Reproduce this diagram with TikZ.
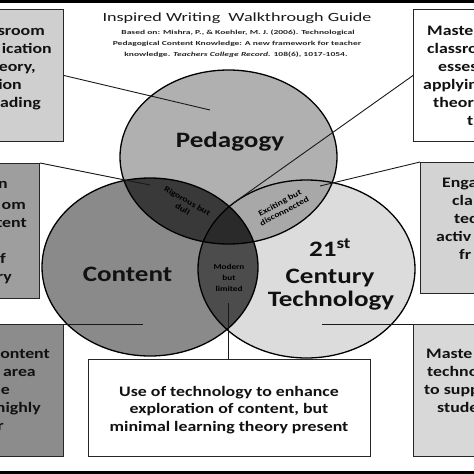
\documentclass[tikz,border=0pt]{standalone}
\usepackage{fontspec}
\setmainfont{Carlito}[FakeStretch=1.23]
\newfontfamily\titlefont{Carlito}[FakeStretch=1.45]
\newfontfamily\citefont{Carlito}[FakeStretch=1.55]
\definecolor{pedC}{HTML}{B0B0B0}
\definecolor{conC}{HTML}{8A8A8A}
\definecolor{tecC}{HTML}{DCDCDC}
\definecolor{pcC}{HTML}{393939}
\definecolor{ptC}{HTML}{A8A8A8}
\definecolor{ctC}{HTML}{4C4C4C}
\definecolor{pctC}{HTML}{2A2A2A}
\definecolor{tlC}{HTML}{CFCFCF}
\definecolor{mlC}{HTML}{9E9E9E}
\definecolor{blC}{HTML}{8C8C8C}
\definecolor{mrC}{HTML}{D3D3D3}
\definecolor{brC}{HTML}{D8D8D8}
\definecolor{inkC}{HTML}{111111}
\begin{document}
\begin{tikzpicture}[x=1pt,y=-1pt,
  box/.style={draw=black!85, line width=1pt, inner sep=0pt, anchor=north west},
  sidetxt/.style={font=\bfseries\fontsize{14.5}{17.5}\selectfont, text=inkC, inner sep=0pt},
  citetxt/.style={font=\citefont\bfseries\fontsize{6.15}{7}\selectfont, text=black!85, inner sep=0pt, anchor=base},
  conn/.style={draw=black!90, line width=0.9pt},
  venn/.style={draw=black, line width=1.3pt},
  big/.style={font=\bfseries\fontsize{22}{26}\selectfont, text=inkC, inner sep=0pt, anchor=base},
  small/.style={font=\bfseries\fontsize{8}{9.5}\selectfont, text=black, inner sep=0pt, align=center}]
\clip (0,0) rectangle (474,474);
\fill[white] (0,0) rectangle (474,474);
\fill[black] (0,0) rectangle (474,2.5);
\fill[black] (0,470.5) rectangle (474,474);

% title
\node[font=\titlefont\fontsize{12.5}{14}\selectfont, text=black!90, inner sep=0pt, anchor=base] (title) at (237,21) {Inspired Writing\ \ Walkthrough Guide};
\node[citetxt] (cite1) at (238,34) {Based on: Mishra, P., \& Koehler, M. J. (2006). Technological};
\node[citetxt] (cite2) at (237,45) {Pedagogical Content Knowledge: A new framework for teacher};
\node[citetxt] (cite3) at (236,56) {knowledge. \textit{Teachers College Record.} 108(6), 1017-1054.};

% venn fills
\fill[conC] (150,267) ellipse [x radius=108, y radius=89];
\fill[tecC] (306.5,269) ellipse [x radius=108.5, y radius=89];
\fill[pedC] (228.5,157) ellipse [x radius=108.5, y radius=87];
\begin{scope}
  \clip (228.5,157) ellipse [x radius=108.5, y radius=87];
  \fill[pcC] (150,267) ellipse [x radius=108, y radius=89];
  \fill[ptC] (306.5,269) ellipse [x radius=108.5, y radius=89];
\end{scope}
\begin{scope}
  \clip (150,267) ellipse [x radius=108, y radius=89];
  \clip (306.5,269) ellipse [x radius=108.5, y radius=89];
  \fill[ctC] (0,0) rectangle (474,474);
  \clip (228.5,157) ellipse [x radius=108.5, y radius=87];
  \fill[pctC] (0,0) rectangle (474,474);
\end{scope}
\draw[venn] (228.5,157) ellipse [x radius=108.5, y radius=87];
\draw[venn] (150,267) ellipse [x radius=108, y radius=89];
\draw[venn] (306.5,269) ellipse [x radius=108.5, y radius=89];

% venn labels
\node[big] (ped) at (230,147) {Pedagogy};
\node[big] (con) at (127.5,281) {Content};
\node[big] (t21) at (330,256) {21\textsuperscript{st}};
\node[big] (cen) at (330,283) {Century};
\node[big] (tec) at (331,306) {Technology};
\node[small, rotate=28] (exc) at (282,207) {Exciting but\\disconnected};
\node[small, rotate=-30, text=black] (rig) at (185,205) {Rigorous but\\dull};
\node[small, text=black, font=\bfseries\fontsize{7.5}{11}\selectfont] (mod) at (229,278) {Modern\\but\\limited};

% boxes
\node[box, fill=tlC, minimum width=103pt, minimum height=132pt] (tl) at (-40,9) {};
\node[box, fill=white, minimum width=100pt, minimum height=132pt] (tr) at (413,9) {};
\node[box, fill=mlC, minimum width=79pt, minimum height=135pt] (ml) at (-40,163) {};
\node[box, fill=mrC, minimum width=100pt, minimum height=131pt] (mr) at (420,162) {};
\node[box, fill=blC, minimum width=103pt, minimum height=132pt] (bl) at (-40,324) {};
\node[box, fill=brC, minimum width=100pt, minimum height=132pt] (br) at (413,324) {};
\node[box, fill=white, minimum width=282pt, minimum height=97pt] (bc) at (88,359) {};

% connectors
\coordinate (pA) at (210,110);
\coordinate (pB) at (232,204);
\coordinate (pC) at (150,185);
\coordinate (pD) at (320,186);
\coordinate (pE) at (143,324);
\coordinate (pF) at (322,324);
\coordinate (pG) at (228,303);
\draw[conn] (tl.east) -- (pA);
\draw[conn] (tr.west) -- (pB);
\draw[conn] (ml.north east) -- (pC);
\draw[conn] (mr.north west) -- (pD);
\draw[conn] (bl.north east) -- (pE);
\draw[conn] (br.north west) -- (pF);
\draw[conn] (bc.north -| pG) -- (pG);

% box texts: top-left
\node[sidetxt, anchor=base east] (tl1) at (45,35.5) {sroom};
\node[sidetxt, anchor=base east] (tl2) at (52,53.5) {ication};
\node[sidetxt, anchor=base east] (tl3) at (36,71.5) {eory,};
\node[sidetxt, anchor=base east] (tl4) at (22,89.5) {ion};
\node[sidetxt, anchor=base east] (tl5) at (41,107.5) {ading};
% top-right
\node[sidetxt, anchor=base west] (tr1) at (427,35.5) {Maste};
\node[sidetxt, anchor=base west] (tr2) at (427,53.5) {classro};
\node[sidetxt, anchor=base west] (tr3) at (438,71.5) {esses};
\node[sidetxt, anchor=base west] (tr4) at (423,89.5) {applyin};
\node[sidetxt, anchor=base west] (tr5) at (433,107.5) {theor};
\node[sidetxt, anchor=base west] (tr6) at (467,125.5) {t};
% middle-left
\node[sidetxt, anchor=base east] (ml1) at (8,188) {n};
\node[sidetxt, anchor=base east] (ml2) at (26,209) {om};
\node[sidetxt, anchor=base east] (ml3) at (27,227.5) {tent};
\node[sidetxt, anchor=base east] (ml4) at (6,263.5) {f};
\node[sidetxt, anchor=base east] (ml5) at (12,281.5) {ry};
% middle-right
\node[sidetxt, anchor=base west] (mr1) at (442,187.5) {Enga};
\node[sidetxt, anchor=base west] (mr2) at (452,205.5) {cla};
\node[sidetxt, anchor=base west] (mr3) at (454,223.5) {tec};
\node[sidetxt, anchor=base west] (mr4) at (436,241.5) {activ};
\node[sidetxt, anchor=base west] (mr5) at (459,259.5) {fr};
% bottom-left
\node[sidetxt, anchor=base east] (bl1) at (50,358.5) {ontent};
\node[sidetxt, anchor=base east] (bl2) at (36,376.5) {area};
\node[sidetxt, anchor=base east] (bl3) at (10,394.5) {e};
\node[sidetxt, anchor=base east] (bl4) at (41,412.5) {highly};
\node[sidetxt, anchor=base east] (bl5) at (4,430.5) {r};
% bottom-right
\node[sidetxt, anchor=base west] (br1) at (426,358.5) {Maste};
\node[sidetxt, anchor=base west] (br2) at (427,376.5) {techno};
\node[sidetxt, anchor=base west] (br3) at (424,394.5) {to supp};
\node[sidetxt, anchor=base west] (br4) at (437,412.5) {stude};
% bottom centre
\node[sidetxt, anchor=base] (bc1) at (229,396) {Use of technology to enhance};
\node[sidetxt, anchor=base] (bc2) at (229,413.5) {exploration of content, but};
\node[sidetxt, anchor=base] (bc3) at (229,431) {minimal learning theory present};
\end{tikzpicture}
\end{document}
